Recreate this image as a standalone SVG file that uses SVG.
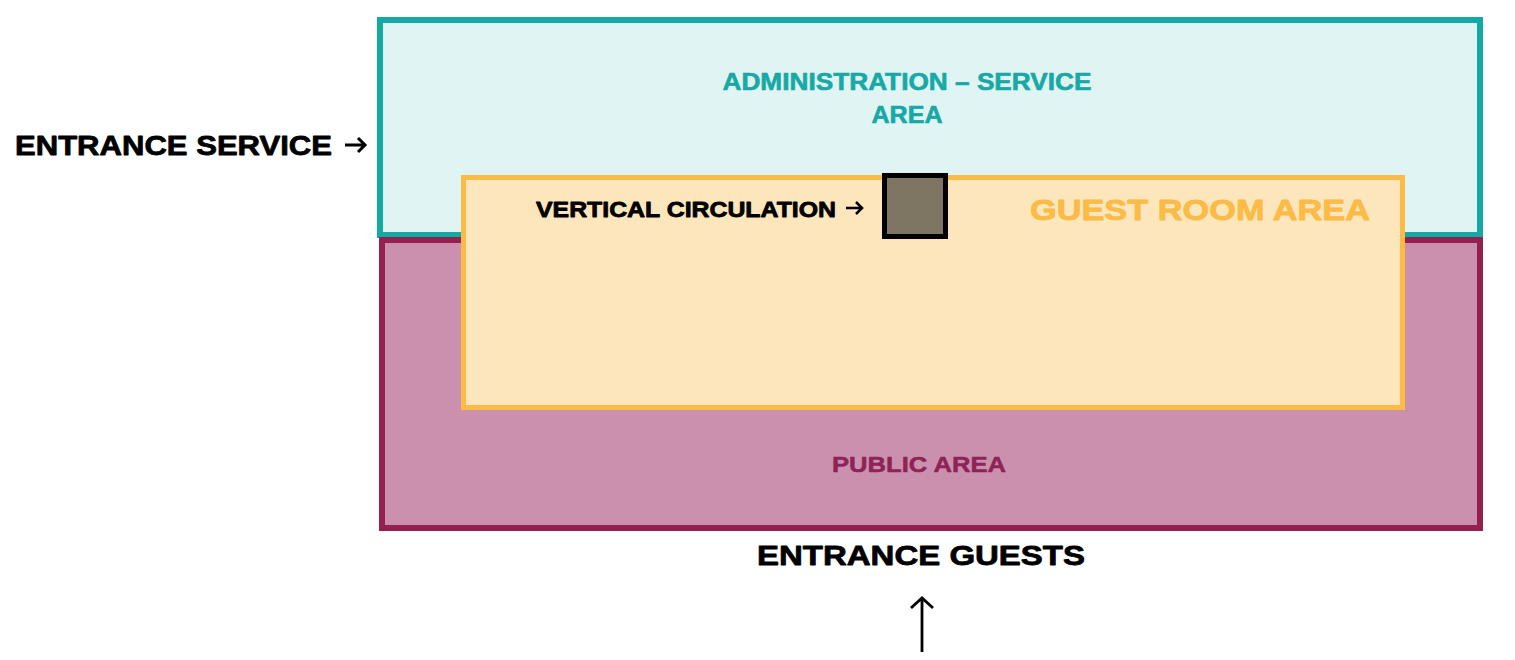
<svg xmlns="http://www.w3.org/2000/svg" width="1515" height="660" viewBox="0 0 1515 660">
<defs>
<style>
.lbl{font-family:"Liberation Sans",Arial,sans-serif;font-weight:bold;paint-order:stroke;stroke-linejoin:round}
.blk{fill:#000;stroke:#000;stroke-width:0.8}
.arr{fill:none;stroke:#000;stroke-linecap:butt;stroke-linejoin:miter}
</style>
</defs>
<rect width="1515" height="660" fill="#fff"/>
<g id="admin">
<rect x="380" y="20" width="1100" height="215" fill="#e1f4f4" stroke="#13aaa6" stroke-width="6"/>
<text class="lbl" x="907" y="90" font-size="23" fill="#17a9a6" stroke="#17a9a6" stroke-width="0.6" text-anchor="middle" textLength="369" lengthAdjust="spacingAndGlyphs">ADMINISTRATION – SERVICE</text>
<text class="lbl" x="907" y="123" font-size="23" fill="#17a9a6" stroke="#17a9a6" stroke-width="0.6" text-anchor="middle" textLength="71" lengthAdjust="spacingAndGlyphs">AREA</text>
</g>
<g id="public">
<rect x="382" y="240" width="1098" height="288" fill="#cb90ad" stroke="#93204f" stroke-width="6"/>
<text class="lbl" x="919" y="472" font-size="22" fill="#8e2355" stroke="#8e2355" stroke-width="0.5" text-anchor="middle" textLength="174" lengthAdjust="spacingAndGlyphs">PUBLIC AREA</text>
</g>
<g id="guest">
<rect x="463.5" y="177.5" width="939" height="230" fill="#fde6bb" stroke="#fbbb45" stroke-width="5"/>
<text class="lbl" x="1030" y="220" font-size="30" fill="#fbbb45" stroke="#fbbb45" stroke-width="0.8" textLength="340" lengthAdjust="spacingAndGlyphs">GUEST ROOM AREA</text>
</g>
<g id="vertical-circulation">
<rect x="884.5" y="175.5" width="61" height="61" fill="#7f7563" stroke="#000" stroke-width="5"/>
<text class="lbl blk" x="536" y="217" font-size="22" textLength="300" lengthAdjust="spacingAndGlyphs">VERTICAL CIRCULATION</text>
</g>
<g id="entrance-service">
<text class="lbl blk" x="15" y="155" font-size="28" textLength="317" lengthAdjust="spacingAndGlyphs">ENTRANCE SERVICE</text>
</g>
<g id="entrance-guests">
<text class="lbl blk" x="921" y="565" font-size="28" text-anchor="middle" textLength="328" lengthAdjust="spacingAndGlyphs">ENTRANCE GUESTS</text>
</g>
<g id="connectors">
<path class="arr" d="M345,145 H365 M358,138 L365,145 L358,152" stroke-width="3"/>
<path class="arr" d="M846,208 H862 M856,202 L862,208 L856,214" stroke-width="2.6"/>
<path class="arr" d="M922,652 V598 M911,608 L922,598 L933,608" stroke-width="2.8"/>
</g>
</svg>
